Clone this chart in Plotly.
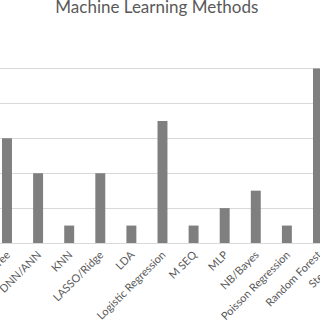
import plotly.graph_objects as go

categories = ["Decision Tree", "DNN/ANN", "KNN", "LASSO/Ridge", "LDA",
              "Logistic Regression", "M SEQ", "MLP", "NB/Bayes",
              "Poisson Regression", "Random Forest", "Stepwise"]
counts = [6, 4, 1, 4, 1, 7, 1, 2, 3, 1, 10, 2]

x_range = [-0.225, 10.065]
font_family = "Lato, 'Open Sans', sans-serif"
label_color = "#595959"
label_size = 11

fig = go.Figure(go.Bar(
    x=list(range(len(categories))), y=counts,
    marker=dict(color="#7f7f7f", line=dict(width=0)),
))

# label of the last (off-range) category, drawn like the tick labels
last = len(categories) - 1
frac = (last - x_range[0]) / (x_range[1] - x_range[0])

fig.update_layout(
    width=320, height=320,
    margin=dict(l=0, r=0, t=33, b=77, autoexpand=False),
    paper_bgcolor="white", plot_bgcolor="white",
    bargap=0.68,
    showlegend=False,
    title=dict(text="Machine Learning Methods", x=0.49, xanchor="center",
               y=0.997, yanchor="top", pad=dict(t=0, b=0),
               font=dict(family=font_family, size=17, color=label_color)),
    xaxis=dict(range=x_range, tickmode="array",
               tickvals=list(range(len(categories))), ticktext=categories,
               tickangle=-45, showgrid=False, showline=True,
               linecolor="#d9d9d9", linewidth=1, ticks="",
               ticklabeloverflow="allow", automargin=False,
               tickfont=dict(family=font_family, size=label_size, color=label_color)),
    yaxis=dict(range=[0, 12.04], dtick=2, showgrid=True, gridcolor="#d9d9d9",
               gridwidth=1, showticklabels=False, zeroline=False, ticks="",
               automargin=False),
    annotations=[dict(text=categories[last], xref="paper", yref="paper",
                      x=frac, y=0, yshift=-4, xanchor="right", yanchor="top",
                      textangle=-45, showarrow=False,
                      font=dict(family=font_family, size=label_size, color=label_color))],
)

fig.write_html("out.html")
